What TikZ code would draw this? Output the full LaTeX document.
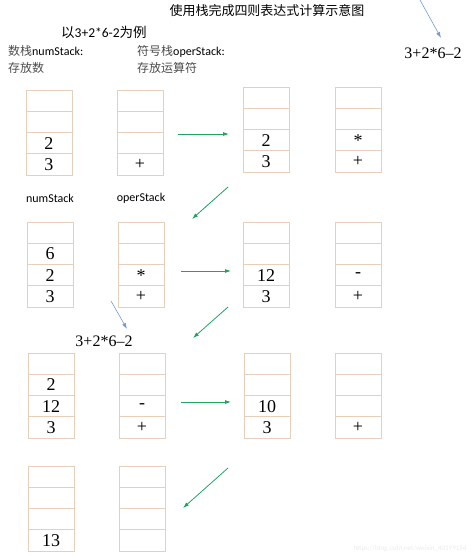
\documentclass[tikz,border=0pt]{standalone}
\usepackage{fontspec}
\setmainfont{Liberation Serif}
\newfontfamily\cjk{Noto Sans CJK SC}
\newfontfamily\calfont{Carlito}
\usetikzlibrary{positioning,arrows.meta}
\definecolor{cellline}{HTML}{E8CFBC}
\definecolor{stepgreen}{HTML}{1FA463}
\definecolor{hintblue}{HTML}{6E9CD2}
\newcommand{\stackbox}[7]{%
  \node[cell, anchor=north west] (#1-1) at (#2,#3) {#4};
  \node[cell, below=0pt of #1-1] (#1-2) {#5};
  \node[cell, below=0pt of #1-2] (#1-3) {#6};
  \node[cell, below=0pt of #1-3] (#1-4) {#7};
}
\begin{document}
\begin{tikzpicture}[x=1pt,y=-1pt,
    cell/.style={draw=cellline, line width=1pt, minimum width=46pt,
      minimum height=21.25pt, inner sep=0pt, outer sep=0pt,
      font=\fontsize{18}{18}\selectfont},
    greenarrow/.style={draw=stepgreen, line width=0.8pt, -{Latex[length=6pt,width=4pt]}},
    bluearrow/.style={draw=hintblue, line width=0.6pt, -{Latex[length=6pt,width=4pt]}},
    note/.style={anchor=west, inner sep=0pt, text=black!70, font=\fontsize{12}{12}\selectfont},
    expr/.style={inner sep=0pt, font=\fontsize{16}{16}\selectfont}]
  \useasboundingbox (0,0) rectangle (474,558);
  % texts
  \node[inner sep=0pt, font=\cjk\fontsize{13}{13}\selectfont] (title) at (267,11) {使用栈完成四则表达式计算示意图};
  \node[inner sep=0pt, anchor=west, font=\fontsize{13.5}{13.5}\selectfont] (example) at (61,32) {\cjk 以\calfont 3+2*6-2\cjk 为例};
  \node[note] (numnote) at (8,51) {\cjk 数栈\calfont\color{black} numStack:};
  \node[note] (numnote2) at (8,68) {\cjk 存放数};
  \node[note] (opernote) at (137,51) {\cjk 符号栈\calfont\color{black} operStack:};
  \node[note] (opernote2) at (137,68) {\cjk 存放运算符};
  \node[expr] (expr1) at (433,53) {3+2*6--2};
  \node[inner sep=0pt, font=\calfont\fontsize{12}{12}\selectfont] (numlabel) at (50,198) {numStack};
  \node[inner sep=0pt, font=\calfont\fontsize{12}{12}\selectfont] (operlabel) at (141,198) {operStack};
  \node[expr] (expr2) at (104,341) {3+2*6--2};
  \node[inner sep=0pt, text=black!8, font=\calfont\fontsize{7}{7}\selectfont] (mark) at (410,549) {https://blog.csdn.net/weixin\_40199154};
  % stacks
  \stackbox{a1}{26}{90}{}{}{2}{3}
  \stackbox{b1}{117}{90}{}{}{}{+}
  \stackbox{c1}{243}{87}{}{}{2}{3}
  \stackbox{d1}{335}{87}{}{}{*}{+}
  \stackbox{a2}{27}{222}{}{6}{2}{3}
  \stackbox{b2}{118}{222}{}{}{*}{+}
  \stackbox{c2}{243}{222}{}{}{12}{3}
  \stackbox{d2}{335}{222}{}{}{-}{+}
  \stackbox{a3}{28}{353}{}{2}{12}{3}
  \stackbox{b3}{119}{353}{}{}{-}{+}
  \stackbox{c3}{244}{353}{}{}{10}{3}
  \stackbox{d3}{335}{353}{}{}{}{+}
  \stackbox{a4}{28}{466}{}{}{}{13}
  \stackbox{b4}{119}{466}{}{}{}{}
  % arrows
  \coordinate (h1s) at (178,134);
  \coordinate (h1e) at (229,134);
  \coordinate (h2s) at (181,271);
  \coordinate (h2e) at (231,271);
  \coordinate (h3s) at (181,402);
  \coordinate (h3e) at (231,402);
  \coordinate (d1s) at (228,187);
  \coordinate (d1e) at (192,219);
  \coordinate (d2s) at (228,307);
  \coordinate (d2e) at (193,338);
  \coordinate (d3s) at (228,468);
  \coordinate (d3e) at (183,508);
  \coordinate (t1s) at (420,0);
  \coordinate (t1e) at (441,38);
  \coordinate (t2s) at (111,301);
  \coordinate (t2e) at (127,329);
  \draw[greenarrow] (h1s) -- (h1e);
  \draw[greenarrow] (h2s) -- (h2e);
  \draw[greenarrow] (h3s) -- (h3e);
  \draw[greenarrow] (d1s) -- (d1e);
  \draw[greenarrow] (d2s) -- (d2e);
  \draw[greenarrow] (d3s) -- (d3e);
  \draw[bluearrow] (t1s) -- (t1e);
  \draw[bluearrow] (t2s) -- (t2e);
\end{tikzpicture}
\end{document}
